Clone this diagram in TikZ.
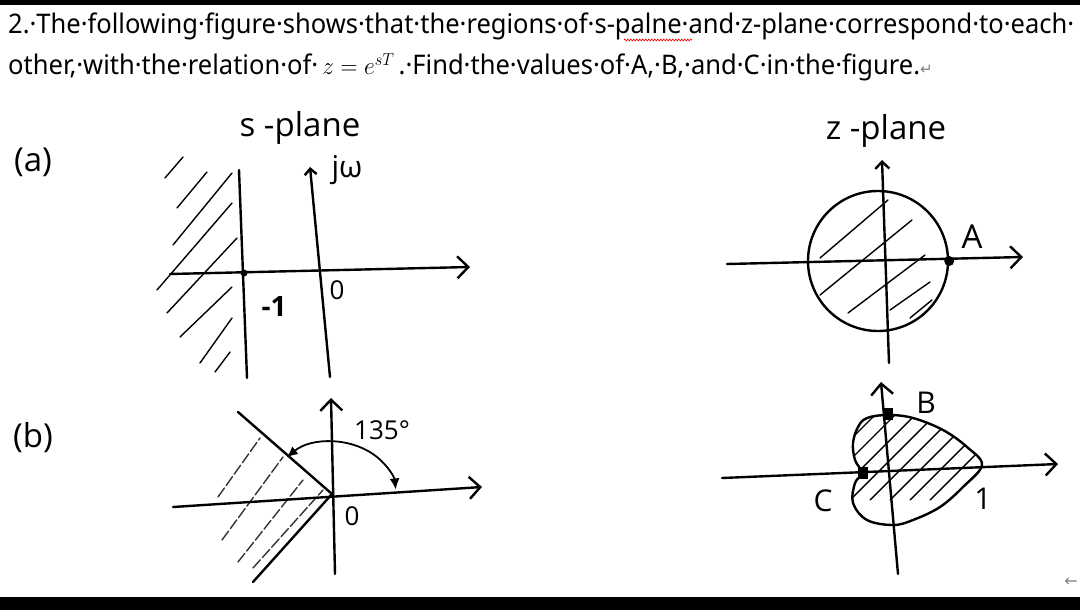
\documentclass[tikz,border=0pt]{standalone}
\usepackage{fontspec}
\setmainfont{Noto Sans}
\newfontfamily\handfont{Open Sans}
\newfontfamily\symfont{DejaVu Sans}
\usetikzlibrary{arrows.meta,decorations.pathmorphing}

\tikzset{
    ink/.style={line width=2.4pt, line cap=round, line join=round},
    axis/.style={ink, -{Straight Barb[length=11pt,width=22pt,line width=2.4pt]}},
    hatch/.style={line width=1.4pt, line cap=round},
    faint/.style={hatch, dash pattern=on 11pt off 3pt, black!80},
    hand/.style={font=\handfont\fontsize{26}{26}\selectfont, inner sep=0pt},
    bighand/.style={hand, font=\handfont\fontsize{33}{33}\selectfont},
    quest/.style={font=\fontsize{27}{27}\selectfont, anchor=base west, inner sep=0pt},
    dotmark/.style={circle, fill, inner sep=0pt, minimum size=10pt},
    sqmark/.style={fill, inner sep=0pt, minimum width=10pt, minimum height=12pt},
}

\begin{document}
\begin{tikzpicture}[x=1pt, y=-1pt]
\useasboundingbox (0,0) rectangle (1080,610);
\fill (0,0) rectangle (1080,5);
\fill (0,597) rectangle (1080,610);

% question
\node[quest] (q1) at (8,34) {\resizebox{1066pt}{\height}{2.·The·following·figure·shows·that·the·regions·of·s-palne·and·z-plane·correspond·to·each·}};
\node[quest] (q2) at (8,75) {\resizebox{912pt}{\height}{other,·with·the·relation·of·\,$z = e^{sT}$\,.·Find·the·values·of·A,·B,·and·C·in·the·figure.}{\symfont\fontsize{15}{15}\selectfont\color{gray}↵}};
\draw[red, line width=0.6pt, decorate, decoration={zigzag, amplitude=1pt, segment length=3pt}] (624,40) -- (692,40);
\node[font=\symfont\fontsize{16}{16}\selectfont, text=gray] (ret) at (1071,582) {←};

\node[bighand] (lab-a) at (33,162) {(a)};
\node[bighand] (lab-b) at (33,438) {(b)};

% (a) s-plane
\coordinate (sa-l) at (170,274);
\coordinate (sa-r) at (470,267);
\coordinate (sa-b) at (330,377);
\coordinate (sa-t) at (310,167);
\coordinate (sa-mb) at (247,378);
\coordinate (sa-mt) at (239,170);
\foreach \xa/\ya/\xb/\yb in {165/178/183/157, 177/208/207/172, 173/245/232/173, 157/290/232/203,
    167/313/237/238, 180/337/232/287, 200/363/232/318, 215/372/230/352}
    \draw[hatch] (\xa,\ya) -- (\xb,\yb);
\draw[axis] (sa-l) -- (sa-r);
\draw[axis, -{Straight Barb[length=6pt,width=12pt,line width=2.4pt]}] (sa-b) -- (sa-t);
\draw[ink] (sa-mb) -- (sa-mt);
\node[dotmark, minimum size=7pt] (sa-m1) at (244,273) {};
\node[bighand] (sa-lab) at (300,128) {s -plane};
\node[hand, font=\handfont\fontsize{30}{30}\selectfont] (sa-jw) at (347,170) {jω};
\node[hand, font=\handfont\bfseries\fontsize{28}{28}\selectfont] (sa-n1) at (274,307) {-1};
\node[hand] (sa-0) at (337,290) {0};

% (a) z-plane
\coordinate (za-l) at (727,264);
\coordinate (za-r) at (1023,257);
\coordinate (za-b) at (889,363);
\coordinate (za-t) at (882,160);
\node[draw, circle, ink, minimum size=140pt] (za-c) at (878,261) {};
\foreach \xa/\ya/\xb/\yb in {820/258/888/200, 820/295/912/220, 848/313/925/255, 890/310/930/282, 910/318/932/300}
    \draw[hatch] (\xa,\ya) -- (\xb,\yb);
\draw[axis] (za-l) -- (za-r);
\draw[axis, -{Straight Barb[length=7pt,width=14pt,line width=2.4pt]}] (za-b) -- (za-t);
\node[dotmark] (za-A) at (za-c.east) {};
\node[bighand] (za-Alab) at (972,237) {A};
\node[bighand] (za-lab) at (886,131) {z -plane};

% (b) s-plane
\coordinate (sb-l) at (173,507);
\coordinate (sb-r) at (482,487);
\coordinate (sb-b) at (335,574);
\coordinate (sb-t) at (331,398);
\coordinate (sb-o) at (332,494);
\coordinate (sb-u) at (238,412);
\coordinate (sb-d) at (253,582);
\foreach \xa/\ya/\xb/\yb in {218/497/260/438, 222/540/283/457, 238/562/303/480, 253/568/323/490}
    \draw[faint] (\xa,\ya) -- (\xb,\yb);
\draw[axis] (sb-l) -- (sb-r);
\draw[axis] (sb-b) -- (sb-t);
\draw[ink] (sb-u) -- (sb-o) -- (sb-d);
\path (sb-o) ++(-135:64 and 52) coordinate (sb-a1);
\draw[ink, line width=1.8pt, {Latex[length=11pt,width=10pt]}-{Latex[length=11pt,width=10pt]}]
    (sb-a1) arc[start angle=-135, end angle=-5, x radius=64, y radius=52];
\node[hand] (sb-deg) at (382,430) {135°};
\node[hand] (sb-0) at (352,516) {0};

% (b) z-plane
\coordinate (zb-l) at (722,478);
\coordinate (zb-r) at (1058,464);
\coordinate (zb-b) at (898,574);
\coordinate (zb-t) at (881,382);
\begin{scope}
\clip plot[smooth cycle, tension=0.6] coordinates {(888,415) (913,418) (943,430) (967,447) (982,465)
    (963,487) (940,507) (913,520) (893,525) (867,520) (853,503) (855,483) (862,473)
    (855,460) (853,443) (858,427) (867,418)};
\foreach \k in {1290,1310,...,1500}
    \draw[hatch] (\k-500,500) -- (\k-380,380);
\end{scope}
\draw[ink] plot[smooth cycle, tension=0.6] coordinates {(888,415) (913,418) (943,430) (967,447) (982,465)
    (963,487) (940,507) (913,520) (893,525) (867,520) (853,503) (855,483) (862,473)
    (855,460) (853,443) (858,427) (867,418)};
\draw[axis] (zb-l) -- (zb-r);
\draw[axis] (zb-b) -- (zb-t);
\node[sqmark] (zb-B) at (888,414) {};
\node[sqmark] (zb-C) at (863,473) {};
\node[bighand, font=\handfont\fontsize{30}{30}\selectfont] (zb-Blab) at (926,403) {B};
\node[bighand, font=\handfont\fontsize{30}{30}\selectfont] (zb-Clab) at (823,501) {C};
\node[bighand, font=\handfont\fontsize{30}{30}\selectfont] (zb-1) at (983,499) {1};
\end{tikzpicture}
\end{document}
